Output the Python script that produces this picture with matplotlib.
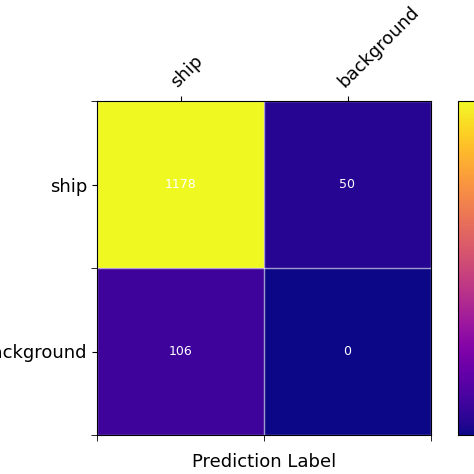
# plot.py

import numpy as np
import matplotlib.pyplot as plt

# confusion matrix values
classes = ['ship', 'background']
counts = np.array([[1178, 50],
                   [106, 0]])

fig = plt.figure(figsize=(4.74, 4.74), dpi=100)
W = H = 474.0

# main axes: pixel box 97..431 x 101..435
ax = fig.add_axes([97 / W, (H - 435) / H, 334 / W, 334 / H])
im = ax.imshow(counts, cmap='plasma', interpolation='nearest', aspect='auto')

# tick labels on top, rotated
ax.xaxis.tick_top()
ax.set_xticks(np.arange(len(classes)))
ax.set_xticklabels(classes, fontsize=13, rotation=45, ha='left', rotation_mode='anchor')
ax.set_yticks(np.arange(len(classes)))
ax.set_yticklabels(classes, fontsize=13)

# minor ticks at cell boundaries, bottom axis shows only minor ticks
ax.set_xticks(np.arange(-0.5, len(classes), 1), minor=True)
ax.set_yticks(np.arange(-0.5, len(classes), 1), minor=True)
ax.tick_params(axis='x', which='minor', bottom=True, top=False, length=4)
ax.tick_params(axis='y', which='minor', length=4)
ax.grid(which='minor', color='white', linestyle='-', linewidth=1, alpha=0.6)

ax.set_xlabel('Prediction Label', fontsize=13, labelpad=9)
ax.xaxis.set_label_position('bottom')

# cell annotations
for i in range(counts.shape[0]):
    for j in range(counts.shape[1]):
        ax.text(j, i, str(counts[i, j]), ha='center', va='center',
                color='white', fontsize=9)

# colorbar, its right side falls outside the picture
cax = fig.add_axes([458 / W, (H - 435) / H, 30 / W, 334 / H])
fig.colorbar(im, cax=cax)

fig.savefig('out.png', dpi=100)
